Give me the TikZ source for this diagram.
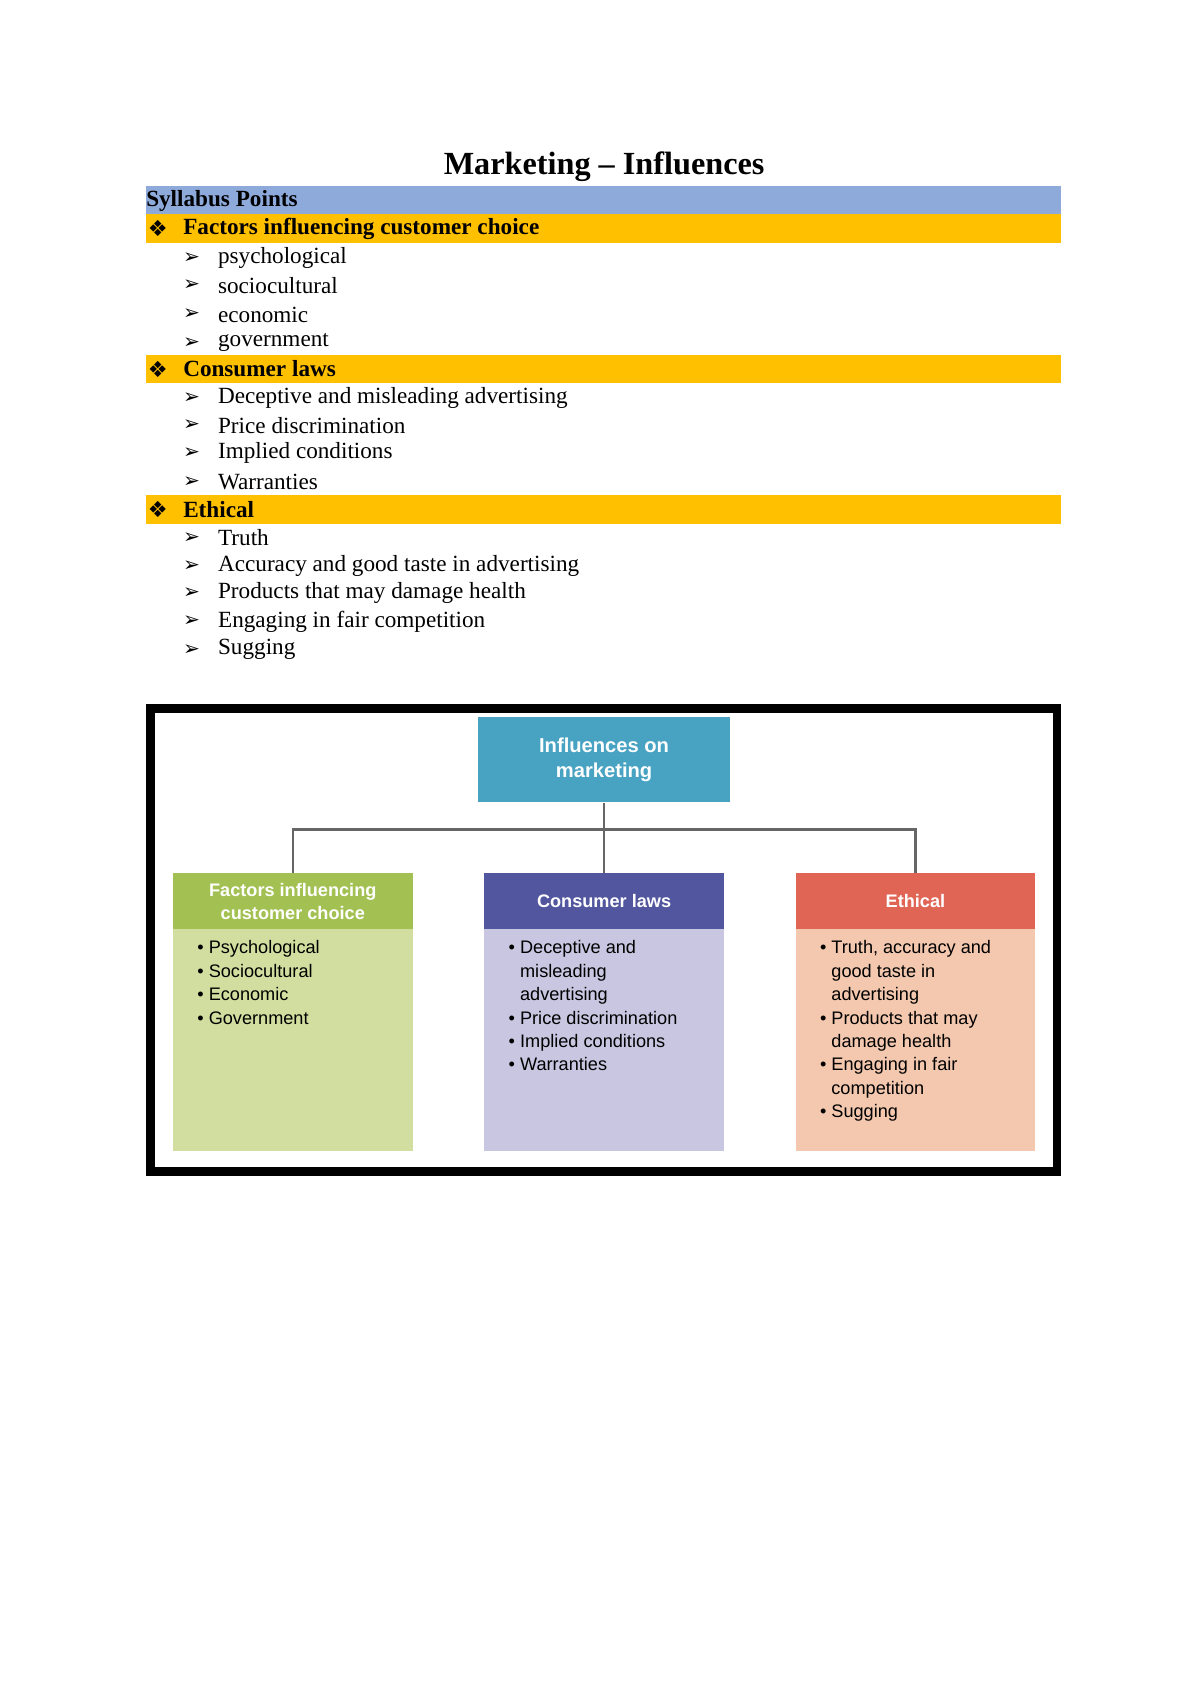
\documentclass[tikz,border=0pt]{standalone}
\usepackage{fontspec}
\setmainfont{Liberation Serif}
\setsansfont{Liberation Sans}
\newfontfamily\dejavu{DejaVu Sans}
\definecolor{sylblue}{HTML}{8EAADB}
\definecolor{sylorange}{HTML}{FFC000}
\definecolor{topc}{HTML}{48A2C2}
\definecolor{gh}{HTML}{A2C152}\definecolor{gb}{HTML}{D2DE9F}
\definecolor{ph}{HTML}{52569E}\definecolor{pb}{HTML}{C8C6E0}
\definecolor{rh}{HTML}{E06555}\definecolor{rb}{HTML}{F3C8AE}
\begin{document}
\begin{tikzpicture}[x=0.54pt,y=-0.54pt,
  item/.style={anchor=west,inner sep=0pt,font=\fontsize{11.5}{13}\selectfont},
  head/.style={anchor=west,inner sep=0pt,font=\fontsize{11.5}{13}\selectfont\bfseries},
  hdr/.style={text=white,font=\sffamily\bfseries\fontsize{9}{11.5}\selectfont,align=center},
  blt/.style={anchor=north west,inner sep=0pt,font=\sffamily\fontsize{9}{11.6}\selectfont,align=left},
  conn/.style={draw=gray!80!black,line width=1.2pt}]
\useasboundingbox (0,0) rectangle (1103,1560);
\node[font=\fontsize{16}{18}\selectfont\bfseries] (title) at (555,153) {Marketing -- Influences};
\fill[sylblue] (134,171) rectangle (975,197);
\node[head] (syl) at (134,185) {Syllabus Points};
\foreach \y/\t in {210/Factors influencing customer choice,339/Consumer laws,468/Ethical}{
  \fill[sylorange] (134,\y-13) rectangle (975,\y+13);
  \node[anchor=center,inner sep=0pt,font=\dejavu\fontsize{11}{12}\selectfont] at (145,\y) {❖};
  \node[head] at (168,\y) {\t};}
\foreach \y/\t in {237/psychological,262/sociocultural,289/economic,315/government,
  366/Deceptive and misleading advertising,391/Price discrimination,416/Implied conditions,443/Warranties,
  494/Truth,520/Accuracy and good taste in advertising,545/Products that may damage health,571/Engaging in fair competition,597/Sugging}{
  \node[anchor=center,inner sep=0pt,font=\dejavu\fontsize{10}{12}\selectfont] at (176,\y) {➢};
  \node[item] at (200,\y) {\t};}
\draw[line width=8*0.54pt] (138,651) rectangle (971,1076);
\node[fill=topc,minimum width=232*0.54pt,minimum height=78*0.54pt,hdr,font=\sffamily\bfseries\fontsize{10}{12}\selectfont] (top) at (555,698) {Influences on\\marketing};
\foreach \n/\x/\hc/\bc/\t in {a/269/gh/gb/{Factors influencing\\customer choice},b/555/ph/pb/{Consumer laws},c/841/rh/rb/{Ethical}}{
  \fill[\bc] (\x-110,853) rectangle (\x+110,1057);
  \node[fill=\hc,minimum width=220*0.54pt,minimum height=51*0.54pt,hdr,anchor=north] (\n) at (\x,802) {\t};}
\coordinate (jn) at (555,762);
\draw[conn] (top.south) -- (jn);
\draw[conn] (a.north) |- (jn) -| (c.north);
\draw[conn] (jn) -- (b.north);
\node[blt] (la) at (181,864) {\textbullet\ Psychological\\\textbullet\ Sociocultural\\\textbullet\ Economic\\\textbullet\ Government};
\node[blt] (lb) at (467,864) {\textbullet\ Deceptive and\\\phantom{\textbullet\ }misleading\\\phantom{\textbullet\ }advertising\\\textbullet\ Price discrimination\\\textbullet\ Implied conditions\\\textbullet\ Warranties};
\node[blt] (lc) at (753,864) {\textbullet\ Truth, accuracy and\\\phantom{\textbullet\ }good taste in\\\phantom{\textbullet\ }advertising\\\textbullet\ Products that may\\\phantom{\textbullet\ }damage health\\\textbullet\ Engaging in fair\\\phantom{\textbullet\ }competition\\\textbullet\ Sugging};
\end{tikzpicture}
\end{document}
